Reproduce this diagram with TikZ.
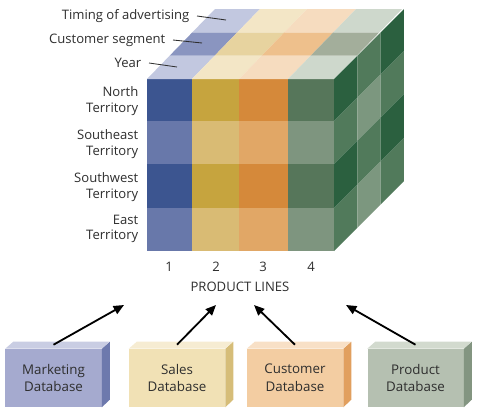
\documentclass[tikz,border=0pt]{standalone}
\usepackage{fontspec}
\setmainfont{Open Sans}
\usetikzlibrary{arrows.meta}

% cube faces
\definecolor{mkdark}{HTML}{3C5590}
\definecolor{mklight}{HTML}{6878AA}
\definecolor{sldark}{HTML}{C6A43E}
\definecolor{sllight}{HTML}{D9BB74}
\definecolor{cudark}{HTML}{D5893A}
\definecolor{culight}{HTML}{E1A766}
\definecolor{prdark}{HTML}{56765A}
\definecolor{prlight}{HTML}{7E957F}
\definecolor{mktop}{HTML}{C2C8E0}
\definecolor{mktopmid}{HTML}{8A95C0}
\definecolor{sltop}{HTML}{F3E6C6}
\definecolor{sltopmid}{HTML}{E7D39F}
\definecolor{cutop}{HTML}{F6DCBF}
\definecolor{cutopmid}{HTML}{EEC08C}
\definecolor{prtop}{HTML}{CED8CC}
\definecolor{prtopmid}{HTML}{A3AE9B}
\definecolor{sidedark}{HTML}{2B603F}
\definecolor{sidemid}{HTML}{517A5B}
\definecolor{sidelight}{HTML}{7C977F}
% database boxes
\definecolor{mkfront}{HTML}{A5AACF}
\definecolor{mkside}{HTML}{6D79AD}
\definecolor{mklid}{HTML}{C9CDE3}
\definecolor{slfront}{HTML}{F1E1B5}
\definecolor{slside}{HTML}{D6BD78}
\definecolor{sllid}{HTML}{F6ECD2}
\definecolor{cufront}{HTML}{F3CDA2}
\definecolor{cuside}{HTML}{E19F5E}
\definecolor{culid}{HTML}{F8E0C6}
\definecolor{prfront}{HTML}{B5C0B1}
\definecolor{prside}{HTML}{839581}
\definecolor{prlid}{HTML}{D2DACE}
\definecolor{inkgray}{HTML}{2E2E2E}

\newcommand{\topcell}[4]{\fill[#4] ({#2+#1*22.67},{79-#1*23.33}) -- ({#3+#1*22.67},{79-#1*23.33}) -- ({#3+(#1+1)*22.67},{79-(#1+1)*23.33}) -- ({#2+(#1+1)*22.67},{79-(#1+1)*23.33}) -- cycle;}
\newcommand{\sidecell}[4]{\fill[#4] ({334+#1*23.33},{#2-#1*23.33}) -- ({334+(#1+1)*23.33},{#2-(#1+1)*23.33}) -- ({334+(#1+1)*23.33},{#3-(#1+1)*23.33}) -- ({334+#1*23.33},{#3-#1*23.33}) -- cycle;}

\tikzset{
  lbl/.style={font=\fontsize{9.3}{11.2}\selectfont, text=inkgray, inner sep=1pt},
  terr/.style={lbl, align=right, anchor=east},
  dbbox/.style={minimum width=24mm, minimum height=14.5mm, inner sep=0pt, align=center,
    font=\fontsize{9.5}{12.5}\selectfont, text=inkgray},
  leader/.style={draw=inkgray, line width=0.6pt},
  dbarrow/.style={-{Triangle[length=2.6mm,width=2.2mm]}, line width=1.3pt, black}
}

\begin{document}
\begin{tikzpicture}[x=0.25mm, y=-0.25mm]
    \useasboundingbox (0,0) rectangle (480,414);

    % front face of the cube
    \foreach \xa/\xb/\ca/\cb in {147/192/mkdark/mklight, 192/239/sldark/sllight, 239/288/cudark/culight, 288/334/prdark/prlight}{
        \fill[\ca] (\xa,79) rectangle (\xb,121);
        \fill[\cb] (\xa,121) rectangle (\xb,164);
        \fill[\ca] (\xa,164) rectangle (\xb,208);
        \fill[\cb] (\xa,208) rectangle (\xb,251);
    }
    % top face
    \foreach \xa/\xb/\ca/\cb in {147/192/mktop/mktopmid, 192/239/sltop/sltopmid, 239/288/cutop/cutopmid, 288/334/prtop/prtopmid}{
        \topcell{0}{\xa}{\xb}{\ca}
        \topcell{1}{\xa}{\xb}{\cb}
        \topcell{2}{\xa}{\xb}{\ca}
    }
    % right face
    \foreach \ya/\yb/\ca/\cb in {79/121/sidedark/sidemid, 121/164/sidemid/sidelight, 164/208/sidedark/sidemid, 208/251/sidemid/sidelight}{
        \sidecell{0}{\ya}{\yb}{\ca}
        \sidecell{1}{\ya}{\yb}{\cb}
        \sidecell{2}{\ya}{\yb}{\ca}
    }

    % dimensions on top
    \node[lbl, anchor=east] (timing) at (191,16) {Timing of advertising};
    \node[lbl, anchor=east] (segment) at (167,40) {Customer segment};
    \node[lbl, anchor=east] (year) at (143,63) {Year};
    \coordinate (timingpt) at (226,20);
    \coordinate (segmentpt) at (202,43);
    \coordinate (yearpt) at (177,67);
    \draw[leader] ([xshift=1.5mm]timing.east) -- (timingpt);
    \draw[leader] ([xshift=1.5mm]segment.east) -- (segmentpt);
    \draw[leader] ([xshift=1.5mm]year.east) -- (yearpt);

    % territories
    \node[terr] (north) at (140,101) {North\\Territory};
    \node[terr] (southeast) at (140,144) {Southeast\\Territory};
    \node[terr] (southwest) at (140,187) {Southwest\\Territory};
    \node[terr] (east) at (140,229) {East\\Territory};

    % product lines
    \node[lbl] (line1) at (169,267) {1};
    \node[lbl] (line2) at (216,267) {2};
    \node[lbl] (line3) at (263,267) {3};
    \node[lbl] (line4) at (311,267) {4};
    \node[lbl] (plines) at (240,287) {PRODUCT LINES};

    % databases
    \node[dbbox, fill=mkfront] (mkt) at (53.5,378) {Marketing\\Database};
    \node[dbbox, fill=slfront] (sales) at (177,378) {Sales\\Database};
    \node[dbbox, fill=cufront] (cust) at (295,378) {Customer\\Database};
    \node[dbbox, fill=prfront] (prod) at (415.5,378) {Product\\Database};
    \foreach \n/\cs/\cl in {mkt/mkside/mklid, sales/slside/sllid, cust/cuside/culid, prod/prside/prlid}{
        \fill[\cs] (\n.north east) -- ++(8,-7) -- ++(0,58) -- (\n.south east) -- cycle;
        \fill[\cl] (\n.north west) -- ++(8,-7) -- ++(96,0) -- (\n.north east) -- cycle;
    }

    % arrows into the cube
    \coordinate (tipmkt) at (124,305);
    \coordinate (tipsales) at (216,305);
    \coordinate (tipcust) at (254,305);
    \coordinate (tipprod) at (346,305);
    \draw[dbarrow] (mkt.north) ++(0,-4) -- (tipmkt);
    \draw[dbarrow] (sales.north) ++(0,-4) -- (tipsales);
    \draw[dbarrow] (cust.north) ++(0,-4) -- (tipcust);
    \draw[dbarrow] (prod.north) ++(0,-4) -- (tipprod);
\end{tikzpicture}
\end{document}
